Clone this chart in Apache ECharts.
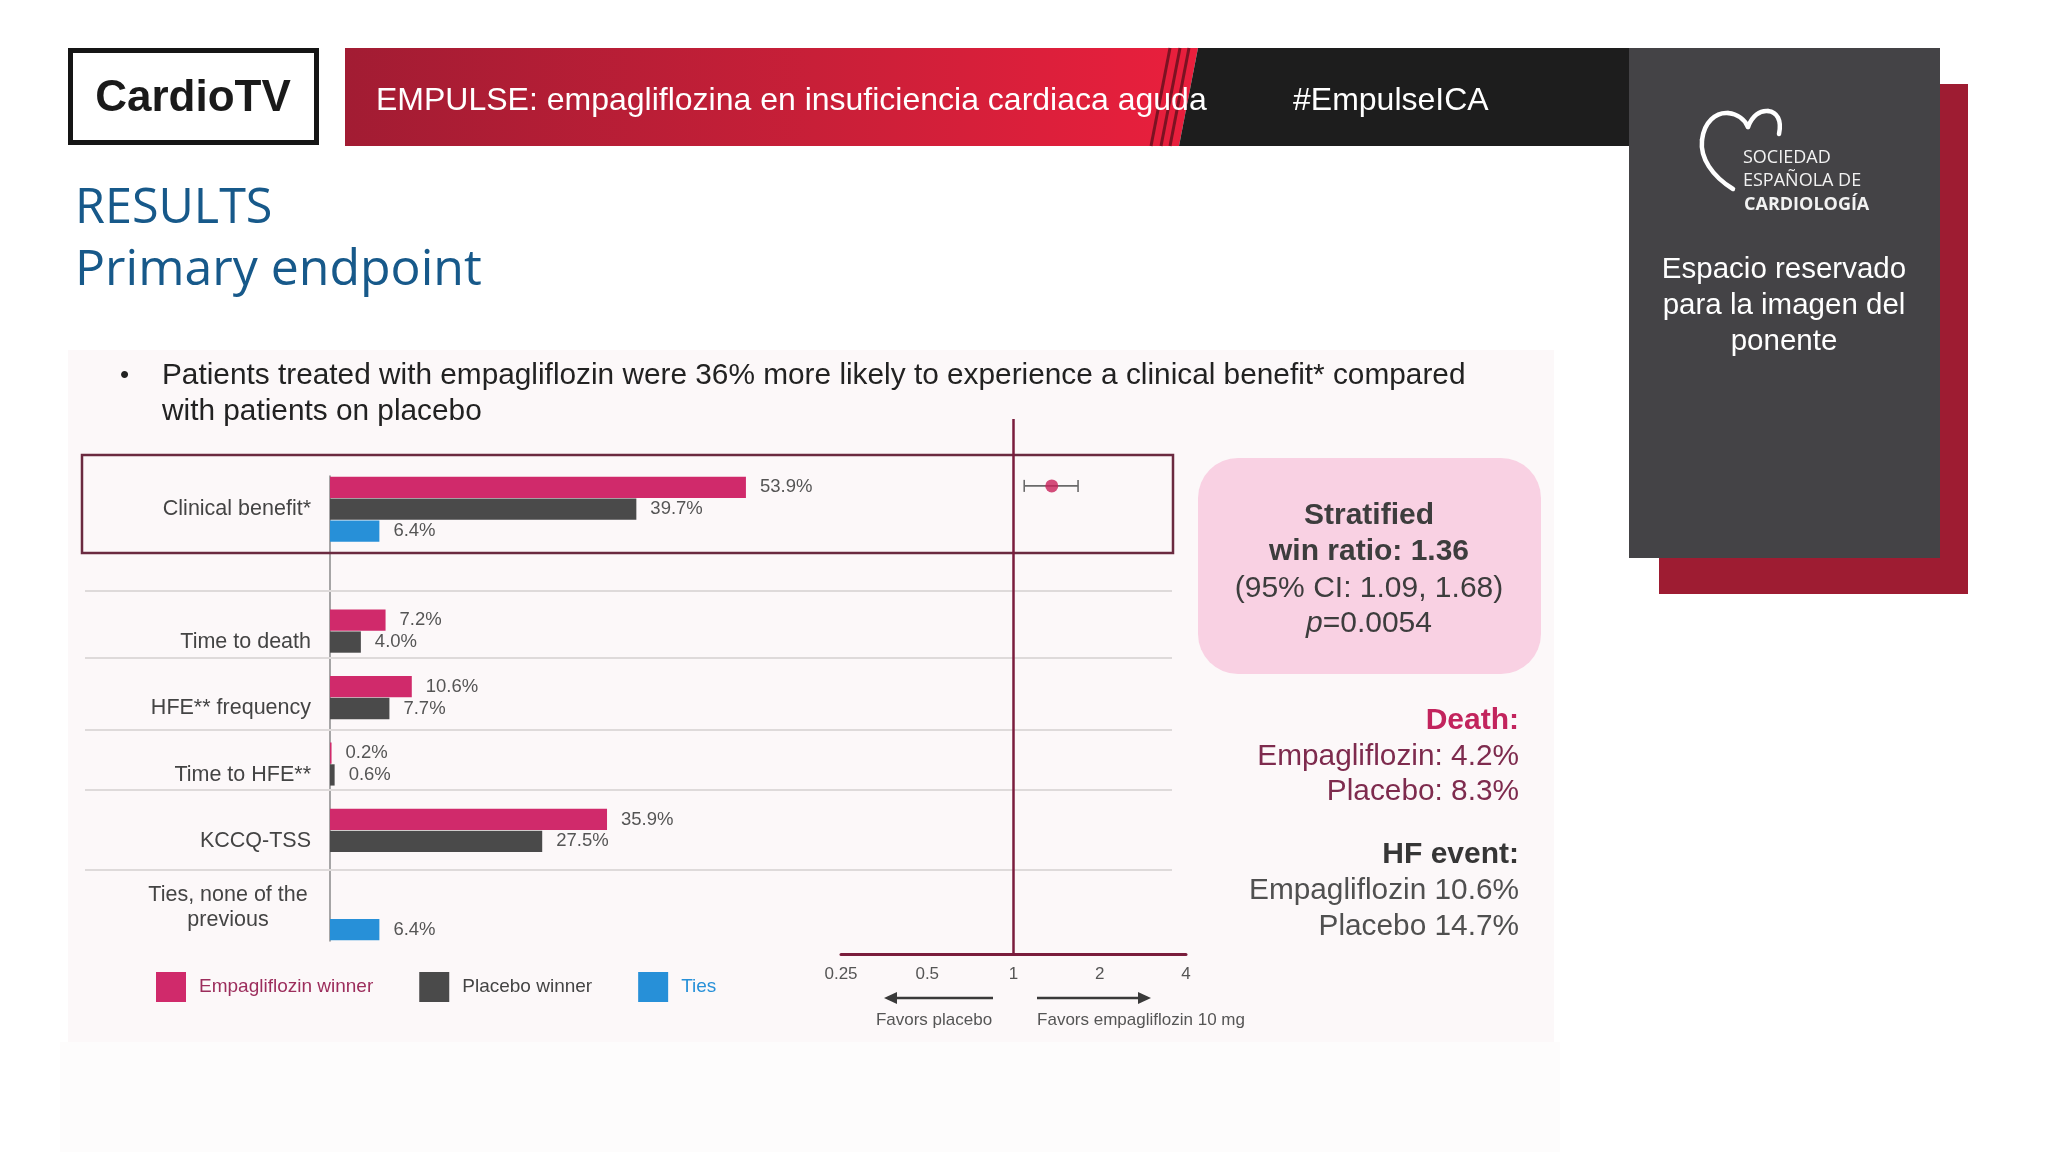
<!DOCTYPE html>
<html><head><meta charset="utf-8">
<script src="https://cdn.jsdelivr.net/npm/echarts@6/dist/echarts.min.js"></script>
<style>html,body{margin:0;padding:0;background:#fff}#c{width:2048px;height:1152px}</style>
</head><body><div id="c"></div><script>
// ---- data ----
const categories = ['Clinical benefit*', '', 'Time to death', 'HFE** frequency', 'Time to HFE**', 'KCCQ-TSS', 'Ties, none of the\nprevious'];
const seriesNames = ['Empagliflozin winner', 'Placebo winner', 'Ties'];
const empaWinner = [53.9, null, 7.2, 10.6, 0.2, 35.9, null];
const placeboWinner = [39.7, null, 4.0, 7.7, 0.6, 27.5, null];
const tiesValues = [6.4, null, null, null, null, null, 6.4];
const winRatio = [1.36];
const ciLow = [1.09];
const ciHigh = [1.68];
const pValue = ['0.0054'];
const forestRow = [3];
const forestTicks = ['0.25', '0.5', '1', '2', '4'];
const deathEmpa = ['4.2%'];
const deathPlacebo = ['8.3%'];
const hfEmpa = ['10.6%'];
const hfPlacebo = ['14.7%'];

const F = "'Liberation Sans', Arial, sans-serif";
const PINK = '#d02a6b', GREY = '#4a4a4a', BLUE = '#2790d8', MAROON = '#7a1d3c';

const chart = echarts.init(document.getElementById('c'), null, {renderer: 'canvas'});

function txt(x, y, text, font, fill, align, extra) {
  return Object.assign({type: 'text', x: x, y: y, z: 50,
    style: {text: text, font: font, fill: fill, textAlign: align || 'left', textVerticalAlign: 'middle'}}, extra || {});
}
function curve(x1, y1, c1x, c1y, c2x, c2y, x2, y2) {
  return {type: 'bezierCurve', z: 20, shape: {x1: x1, y1: y1, cpx1: c1x, cpy1: c1y, cpx2: c2x, cpy2: c2y, x2: x2, y2: y2},
    style: {fill: 'none', stroke: '#ffffff', lineWidth: 4.5, lineCap: 'round'}};
}

const graphics = [
  // chart image background
  {type: 'rect', z: -10, shape: {x: 68, y: 350, width: 1486, height: 692}, style: {fill: '#fcf8f9'}},
  {type: 'rect', z: -11, shape: {x: 60, y: 1042, width: 1500, height: 110}, style: {fill: '#fdfcfc'}},
  // CardioTV box
  {type: 'rect', z: 10, shape: {x: 70.5, y: 50.5, width: 246, height: 92}, style: {fill: '#fff', stroke: '#151515', lineWidth: 5}},
  txt(193, 99, 'CardioTV', "bold 44px " + F, '#1a1a1a', 'center'),
  // banner
  {type: 'polygon', z: 10, shape: {points: [[345, 48], [1198, 48], [1179, 146], [345, 146]]},
    style: {fill: new echarts.graphic.LinearGradient(0, 0, 1, 0, [{offset: 0, color: '#a21c33'}, {offset: 0.55, color: '#c81f38'}, {offset: 1, color: '#ea1f3d'}])}},
  {type: 'polygon', z: 10, shape: {points: [[1198, 48], [1629, 48], [1629, 146], [1179, 146]]}, style: {fill: '#1d1d1d'}},
  {type: 'line', z: 11, shape: {x1: 1170, y1: 48, x2: 1151, y2: 146}, style: {stroke: '#7c1222', lineWidth: 3}},
  {type: 'line', z: 11, shape: {x1: 1180, y1: 48, x2: 1161, y2: 146}, style: {stroke: '#7c1222', lineWidth: 3}},
  {type: 'line', z: 11, shape: {x1: 1189, y1: 48, x2: 1170, y2: 146}, style: {stroke: '#7c1222', lineWidth: 3}},
  txt(376, 101, 'EMPULSE: empagliflozina en insuficiencia cardiaca aguda', "32px " + F, '#ffffff'),
  txt(1293, 101, '#EmpulseICA', "32px " + F, '#ffffff'),
  // right panels
  {type: 'rect', z: 5, shape: {x: 1659, y: 84, width: 309, height: 510}, style: {fill: '#9e1c32'}},
  {type: 'rect', z: 6, shape: {x: 1629, y: 48, width: 311, height: 510}, style: {fill: '#444346'}},
  curve(1733, 189, 1712, 176, 1700, 158, 1702, 140),
  curve(1702, 140, 1704, 122, 1716, 112, 1728, 113),
  curve(1728, 113, 1738, 114, 1745, 120, 1748, 127),
  curve(1748, 127, 1752, 116, 1760, 110, 1768, 111),
  curve(1768, 111, 1777, 112, 1782, 120, 1779, 134),
  txt(1743, 158, 'SOCIEDAD', "18px 'Open Sans', sans-serif", '#f2f2f2'),
  txt(1743, 181, 'ESPAÑOLA DE', "18px 'Open Sans', sans-serif", '#f2f2f2'),
  txt(1744, 205, 'CARDIOLOGÍA', "bold 18px 'Open Sans', sans-serif", '#f2f2f2'),
  txt(1784, 270, 'Espacio reservado', "29.5px " + F, '#ffffff', 'center'),
  txt(1784, 306, 'para la imagen del', "29.5px " + F, '#ffffff', 'center'),
  txt(1784, 342, 'ponente', "29.5px " + F, '#ffffff', 'center'),
  // titles
  txt(75, 209, 'RESULTS', "48.5px 'Open Sans', sans-serif", '#17598a'),
  txt(75, 271, 'Primary endpoint', "50px 'Open Sans', sans-serif", '#17598a'),
  // bullet
  txt(120, 376, '•', "26px " + F, '#222'),
  txt(162, 376, 'Patients treated with empagliflozin were 36% more likely to experience a clinical benefit* compared', "29.8px " + F, '#222'),
  txt(162, 412, 'with patients on placebo', "29.8px " + F, '#222'),
  // clinical benefit box
  {type: 'rect', z: 3, shape: {x: 82, y: 455, width: 1091, height: 98}, style: {fill: 'none', stroke: '#6b2a40', lineWidth: 2.5}},
  // separators
  ...[591, 658, 730, 790, 870].map(y => ({type: 'line', z: 1, shape: {x1: 85, y1: y, x2: 1172, y2: y}, style: {stroke: '#dedada', lineWidth: 2}})),
  // stratified box
  {type: 'rect', z: 3, shape: {x: 1198, y: 458, width: 343, height: 216, r: 40}, style: {fill: '#f9d1e3'}},
  txt(1369, 516, 'Stratified', "bold 30px " + F, '#3d3d3d', 'center'),
  txt(1369, 552, 'win ratio: ' + winRatio[0].toFixed(2), "bold 30px " + F, '#3d3d3d', 'center'),
  txt(1369, 589, '(95% CI: ' + ciLow[0].toFixed(2) + ', ' + ciHigh[0].toFixed(2) + ')', "30px " + F, '#3d3d3d', 'center'),
  {type: 'text', x: 1369, y: 624, z: 50, style: {text: '{i|p}=' + pValue[0], font: "30px " + F, fill: '#3d3d3d', textAlign: 'center', textVerticalAlign: 'middle',
    rich: {i: {font: "italic 30px " + F, fill: '#3d3d3d'}}}},
  // right notes
  txt(1519, 721, 'Death:', "bold 30px " + F, '#c2245d', 'right'),
  txt(1519, 757, 'Empagliflozin: ' + deathEmpa[0], "29.8px " + F, '#7e2b4e', 'right'),
  txt(1519, 792, 'Placebo: ' + deathPlacebo[0], "29.8px " + F, '#7e2b4e', 'right'),
  txt(1519, 855, 'HF event:', "bold 30px " + F, '#363636', 'right'),
  txt(1519, 891, 'Empagliflozin ' + hfEmpa[0], "29.8px " + F, '#505050', 'right'),
  txt(1519, 927, 'Placebo ' + hfPlacebo[0], "29.8px " + F, '#505050', 'right'),
  // favour arrows
  {type: 'line', z: 20, shape: {x1: 993, y1: 998, x2: 893, y2: 998}, style: {stroke: '#3a3a3a', lineWidth: 2.5}},
  {type: 'polygon', z: 20, shape: {points: [[884, 998], [897, 992], [897, 1004]]}, style: {fill: '#3a3a3a'}},
  {type: 'line', z: 20, shape: {x1: 1037, y1: 998, x2: 1141, y2: 998}, style: {stroke: '#3a3a3a', lineWidth: 2.5}},
  {type: 'polygon', z: 20, shape: {points: [[1151, 998], [1138, 992], [1138, 1004]]}, style: {fill: '#3a3a3a'}},
  txt(934, 1020, 'Favors placebo', "17px " + F, '#555', 'center'),
  txt(1141, 1020, 'Favors empagliflozin 10 mg', "17px " + F, '#555', 'center')
];

const labelStyle = {show: true, position: 'right', distance: 14, fontSize: 18.5, fontFamily: F, color: '#555',
  formatter: p => (p.value == null ? '' : Number(p.value).toFixed(1) + '%')};

const option = {
  animation: false,
  backgroundColor: '#ffffff',
  graphic: {elements: graphics},
  grid: [
    {left: 330, top: 476, width: 463, height: 465, outerBoundsMode: 'none', containLabel: false},
    {left: 841, top: 419, width: 345, height: 535, outerBoundsMode: 'none', containLabel: false}
  ],
  legend: {
    left: 151, top: 967, itemWidth: 30, itemHeight: 30, itemGap: 46, icon: 'rect',
    textStyle: {fontSize: 19, fontFamily: F, padding: [0, 0, 0, 8]},
    data: [
      {name: seriesNames[0], textStyle: {color: '#9c2d5c'}},
      {name: seriesNames[1], textStyle: {color: '#444'}},
      {name: seriesNames[2], textStyle: {color: BLUE}}
    ]
  },
  xAxis: [
    {gridIndex: 0, type: 'value', min: 0, max: 60, show: false},
    {gridIndex: 1, type: 'log', logBase: 2, min: 0.25, max: 4, splitNumber: 4, position: 'bottom',
      axisLine: {show: true, onZero: false, lineStyle: {color: MAROON, width: 3}},
      axisTick: {show: false}, splitLine: {show: false},
      axisLabel: {margin: 12, fontSize: 17, fontFamily: F, color: '#555',
        formatter: v => { const s = String(Math.round(v * 100) / 100); return forestTicks.indexOf(s) >= 0 ? s : ''; }}}
  ],
  yAxis: [
    {gridIndex: 0, type: 'category', inverse: true, data: categories,
      axisLine: {show: true, lineStyle: {color: '#8a8a8a', width: 1.5}},
      axisTick: {show: false}, splitLine: {show: false},
      axisLabel: {margin: 19, fontSize: 21.5, fontFamily: F, color: '#444', lineHeight: 25,
        formatter: v => v.indexOf('\n') >= 0 ? v.split('\n').map(s => '{c|' + s + '}').join('\n') : v,
        rich: {c: {width: 166, align: 'center', fontSize: 21.5, fontFamily: F, color: '#444', lineHeight: 25}}}},
    {gridIndex: 1, type: 'value', min: 0, max: 24, inverse: true, show: false}
  ],
  series: [
    {name: seriesNames[0], type: 'bar', xAxisIndex: 0, yAxisIndex: 0, data: empaWinner, itemStyle: {color: PINK},
      barGap: '3%', barCategoryGap: '2%', label: labelStyle},
    {name: seriesNames[1], type: 'bar', xAxisIndex: 0, yAxisIndex: 0, data: placeboWinner, itemStyle: {color: GREY},
      barGap: '3%', barCategoryGap: '2%', label: labelStyle},
    {name: seriesNames[2], type: 'bar', xAxisIndex: 0, yAxisIndex: 0, data: tiesValues, itemStyle: {color: BLUE},
      barGap: '3%', barCategoryGap: '2%', label: labelStyle},
    {type: 'custom', xAxisIndex: 1, yAxisIndex: 1, z: 3,
      data: ciLow.map((lo, i) => [lo, ciHigh[i], forestRow[i]]),
      renderItem: (params, api) => {
        const a = api.coord([api.value(0), api.value(2)]);
        const b = api.coord([api.value(1), api.value(2)]);
        const st = {stroke: '#6a6a6a', lineWidth: 1.6};
        return {type: 'group', children: [
          {type: 'line', shape: {x1: a[0], y1: a[1], x2: b[0], y2: b[1]}, style: st},
          {type: 'line', shape: {x1: a[0], y1: a[1] - 6, x2: a[0], y2: a[1] + 6}, style: st},
          {type: 'line', shape: {x1: b[0], y1: b[1] - 6, x2: b[0], y2: b[1] + 6}, style: st}
        ]};
      }},
    {type: 'scatter', xAxisIndex: 1, yAxisIndex: 1, z: 5, symbolSize: 13,
      data: winRatio.map((w, i) => [w, forestRow[i]]), itemStyle: {color: '#c8215a'},
      markLine: {silent: true, symbol: 'none', label: {show: false},
        lineStyle: {color: MAROON, width: 2.5, type: 'solid'}, data: [{xAxis: 1}]}}
  ]
};
chart.setOption(option);
</script></body></html>
